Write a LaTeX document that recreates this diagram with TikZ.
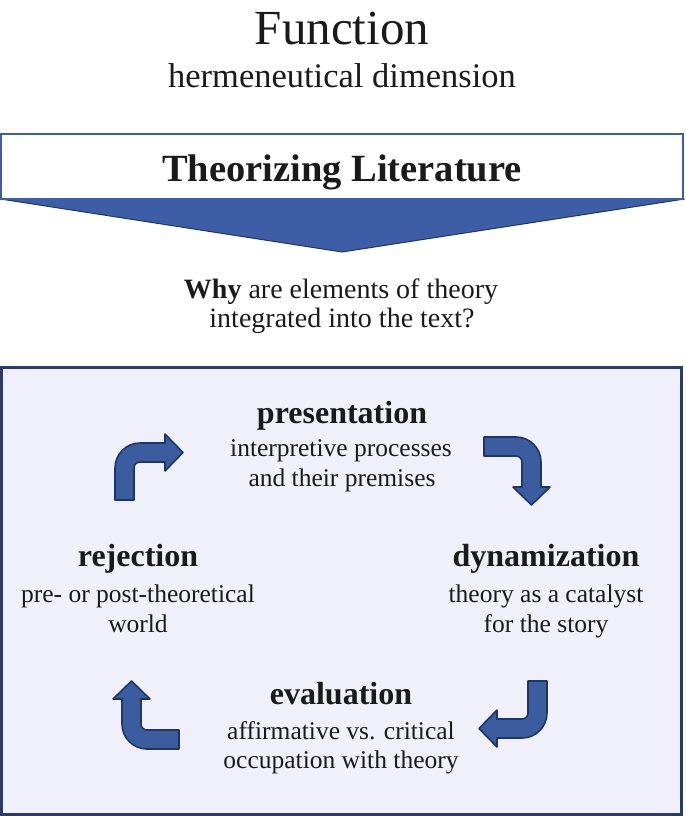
\documentclass[tikz,border=0pt]{standalone}
\usepackage{fontspec}
\setmainfont{Liberation Serif}
\definecolor{boxfill}{HTML}{EFF0FA}
\definecolor{boxedge}{HTML}{2B3A66}
\definecolor{arrfill}{HTML}{3C5CA0}
\definecolor{arredge}{HTML}{1F3563}
\definecolor{banedge}{HTML}{3D5EA6}
\definecolor{txtc}{HTML}{1A1A1A}
\begin{document}
\begin{tikzpicture}[x=1pt,y=-1pt,
  body/.style={font=\fontsize{25.5}{30}\selectfont, text=txtc, inner sep=0pt, anchor=base},
  quest/.style={font=\fontsize{28}{30}\selectfont, text=txtc, inner sep=0pt, anchor=base},
  heading/.style={font=\fontsize{32}{36}\selectfont\bfseries, text=txtc, inner sep=0pt, anchor=base},
  bentarrow/.style={fill=arrfill, draw=arredge, line width=1.6pt, line join=round}
]
\useasboundingbox (0,0) rectangle (685,816);
% title
\node[font=\fontsize{49}{52}\selectfont, text=txtc, inner sep=0pt, anchor=base] (title) at (342,45) {Function};
\node[font=\fontsize{34.5}{36}\selectfont, text=txtc, inner sep=0pt, anchor=base] (subtitle) at (342,87) {hermeneutical dimension};
% banner
\draw[fill=banedge, draw=arredge, line width=1pt, line join=round] (0.5,199) -- (684.5,199) -- (342,252) -- cycle;
\draw[fill=white, draw=banedge, line width=2pt] (1,134) rectangle (683,199);
\node[font=\fontsize{38.5}{40}\selectfont\bfseries, text=txtc, inner sep=0pt, anchor=base] (banner) at (342,181) {Theorizing Literature};
% question
\node[quest] (q1) at (341,298) {\textbf{Why} are elements of theory};
\node[quest] (q2) at (342,327) {integrated into the text?};
% box
\draw[fill=boxfill, draw=boxedge, line width=3pt] (1.5,367.5) rectangle (681.5,814.5);
% presentation
\node[heading] (pres) at (342,423) {presentation};
\node[body] (pres1) at (341,456) {interpretive processes};
\node[body] (pres2) at (342,486) {and their premises};
% rejection
\node[heading] (rej) at (138,566) {rejection};
\node[body] (rej1) at (138,602) {pre- or post-theoretical};
\node[body] (rej2) at (138,632) {world};
% dynamization
\node[heading] (dyn) at (546,566) {dynamization};
\node[body] (dyn1) at (546,602) {theory as a catalyst};
\node[body] (dyn2) at (546,632) {for the story};
% evaluation
\node[heading] (eva) at (341,704) {evaluation};
\node[body] (eva1) at (341,739) {affirmative vs. critical};
\node[body] (eva2) at (341,768) {occupation with theory};
% bent arrows
\def\bentshape{(0,57) -- (0,25) .. controls (0,11.2) and (11.2,0) .. (25,0) -- (50,0) -- (50,-9) -- (68,9.5) -- (50,28) -- (50,19) -- (25,19) .. controls (21.7,19) and (19,21.7) .. (19,25) -- (19,57) -- cycle}
\begin{scope}[shift={(115,443)}]
  \draw[bentarrow] \bentshape;
\end{scope}
\begin{scope}[shift={(541,437)}, rotate=-90]
  \draw[bentarrow] \bentshape;
\end{scope}
\begin{scope}[shift={(547,738)}, rotate=180]
  \draw[bentarrow] \bentshape;
\end{scope}
\begin{scope}[shift={(122,749)}, rotate=90]
  \draw[bentarrow] \bentshape;
\end{scope}
\end{tikzpicture}
\end{document}
